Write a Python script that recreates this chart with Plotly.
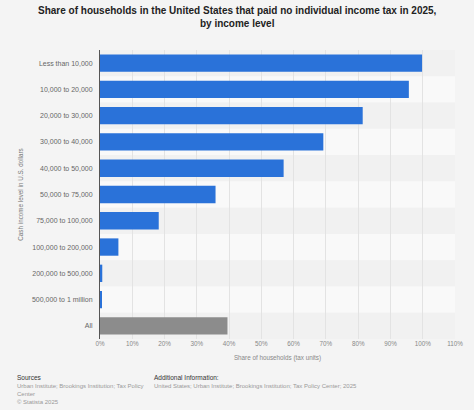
import plotly.graph_objects as go

categories = ["Less than 10,000", "10,000 to 20,000", "20,000 to 30,000", "30,000 to 40,000",
              "40,000 to 50,000", "50,000 to 75,000", "75,000 to 100,000", "100,000 to 200,000",
              "200,000 to 500,000", "500,000 to 1 million", "All"]
values = [99.8, 95.7, 81.4, 69.2, 56.9, 35.8, 18.2, 5.7, 0.7, 0.4, 39.5]
bar_colors = ["#2a72d9"] * 10 + ["#8c8c8c"]
tick_vals = [0, 10, 20, 30, 40, 50, 60, 70, 80, 90, 100, 110]
tick_text = [f"{v}%" for v in tick_vals]

FONT = "Liberation Sans, Arial, sans-serif"

L, R, T, B = 100, 19, 50, 75
W, H = 474, 414
PW, PH = W - L - R, H - T - B


def px(xp):
    return (xp - L) / PW


def py(yp):
    return (H - B - yp) / PH


fig = go.Figure(go.Bar(
    x=values, y=categories, orientation="h",
    marker=dict(color=bar_colors, line=dict(width=0)),
    width=0.66, hoverinfo="x+y",
))

shapes = []
for i, c in enumerate(categories):
    shapes.append(dict(type="rect", xref="paper", yref="y", x0=0, x1=1,
                       y0=i - 0.5, y1=i + 0.5, layer="below", line=dict(width=0),
                       fillcolor="#f1f1f1" if i % 2 == 0 else "#f9f9f9"))
shapes.append(dict(type="rect", xref="paper", yref="paper", x0=px(-5), x1=px(W + 5),
                   y0=py(H + 5), y1=py(410), layer="below", line=dict(width=0), fillcolor="#ffffff"))

annotations = [
    dict(text="<b>Share of households in the United States that paid no individual income tax in 2025,<br>by income level</b>",
         xref="paper", yref="paper", x=px(237), y=py(17.5), xanchor="center", yanchor="middle",
         showarrow=False, font=dict(family=FONT, size=10, color="#222222"), align="center"),
    dict(text="Sources", xref="paper", yref="paper", x=px(15), y=py(377), xanchor="left", yanchor="middle",
         showarrow=False, font=dict(family=FONT, size=6.5, color="#333333")),
    dict(text="Urban Institute; Brookings Institution; Tax Policy<br>Center<br>© Statista 2025",
         xref="paper", yref="paper", x=px(15), y=py(381), xanchor="left", yanchor="top",
         showarrow=False, font=dict(family=FONT, size=6, color="#999999"), align="left"),
    dict(text="Additional Information:", xref="paper", yref="paper", x=px(152), y=py(377),
         xanchor="left", yanchor="middle", showarrow=False, font=dict(family=FONT, size=6.5, color="#333333")),
    dict(text="United States; Urban Institute; Brookings Institution; Tax Policy Center; 2025",
         xref="paper", yref="paper", x=px(152), y=py(381), xanchor="left", yanchor="top",
         showarrow=False, font=dict(family=FONT, size=6, color="#999999"), align="left"),
]

fig.update_layout(
    width=W, height=H,
    margin=dict(l=L, r=R, t=T, b=B, pad=0, autoexpand=False),
    paper_bgcolor="#f4f4f4", plot_bgcolor="#f4f4f4",
    showlegend=False, shapes=shapes, annotations=annotations,
    bargap=0.34,
    font=dict(family=FONT, color="#666666"),
    xaxis=dict(range=[0, 110], tickvals=tick_vals, ticktext=tick_text, automargin=False,
               tickfont=dict(size=6.3, color="#888888"), showgrid=True, gridcolor="#e3e3e3",
               gridwidth=1, zeroline=False, showline=False, ticks="",
               title=dict(text="Share of households (tax units)", font=dict(size=6.3, color="#888888"), standoff=9),
               fixedrange=True),
    yaxis=dict(categoryorder="array", categoryarray=categories, autorange="reversed", automargin=False,
               tickfont=dict(size=7, color="#666666"), showgrid=False, zeroline=False,
               showline=True, linecolor="#555555", linewidth=1, ticks="", ticklabelstandoff=5,
               title=dict(text="Cash income level in U.S. dollars", font=dict(size=6.3, color="#777777"), standoff=7),
               fixedrange=True),
)

fig.write_html("out.html")
